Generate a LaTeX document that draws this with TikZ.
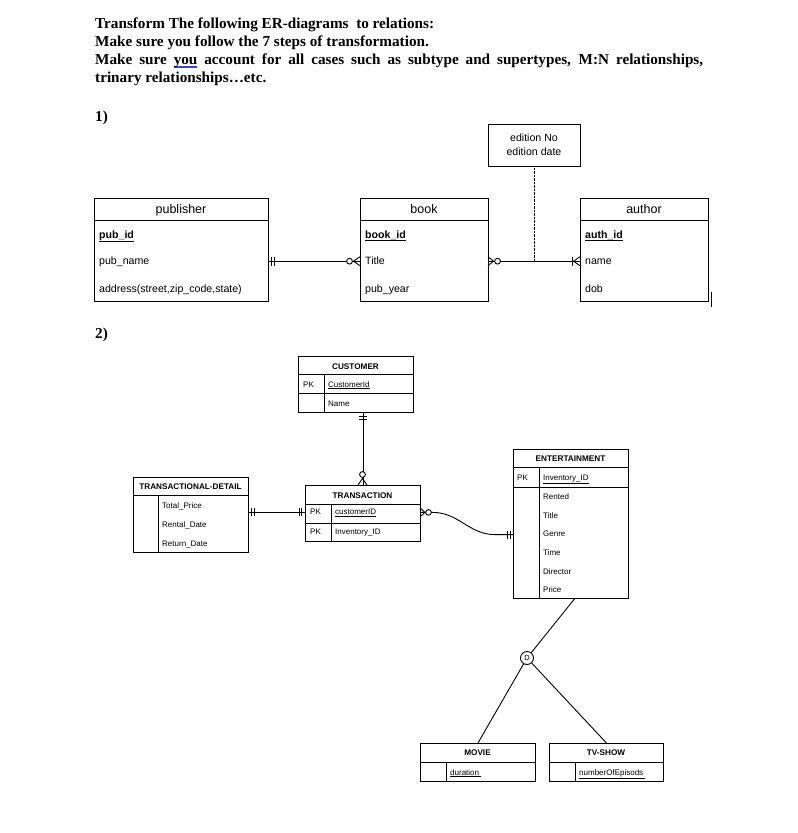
\documentclass[tikz,border=0pt]{standalone}
\usepackage{fontspec}
\setmainfont{Liberation Serif}
\newfontfamily\diagfont{Liberation Sans}
\usetikzlibrary{positioning}
\definecolor{spellblue}{RGB}{45,75,205}

% blue spell-check mark under a word
\newcommand{\spellmark}[1]{%
  \setbox0=\hbox{#1}%
  \rlap{\color{spellblue}\rule[-2.2pt]{\wd0}{0.5pt}}%
  \rlap{\color{spellblue}\rule[-3.6pt]{\wd0}{0.5pt}}%
  \box0\relax}

\tikzset{
  heading/.style={anchor=base west, inner sep=0pt, font=\bfseries\fontsize{15.2}{18}\selectfont},
  entity/.style={draw, line width=0.9pt, anchor=north west, inner sep=0pt},
  bigtitle/.style={anchor=base, inner sep=0pt, font=\diagfont\fontsize{12.5}{14}\selectfont},
  bigattr/.style={anchor=base west, inner sep=0pt, text height=8pt, text depth=2.4pt, font=\diagfont\fontsize{10.6}{12}\selectfont},
  smalltitle/.style={anchor=base, inner sep=0pt, font=\diagfont\bfseries\fontsize{8.2}{9}\selectfont},
  smallattr/.style={anchor=base west, inner sep=0pt, text height=6pt, text depth=1.8pt, font=\diagfont\fontsize{8}{9}\selectfont},
  link/.style={line width=0.9pt},
  openend/.style={line width=0.9pt, fill=white},
}

\begin{document}
\begin{tikzpicture}[x=1pt, y=-1pt]
  \useasboundingbox (0,0) rectangle (798,833);
  % the task text
  \node[heading] (task1) at (95,28) {Transform The following ER-diagrams\ \ to relations:};
  \node[heading] (task2) at (95,46) {Make sure you follow the 7 steps of transformation.};
  \node[heading] (task3) at (95,64) {\makebox[608pt][s]{Make sure \spellmark{you} account for all cases such as subtype and supertypes, M:N relationships,}};
  \node[heading] (task4) at (95,82) {trinary relationships…etc.};
  \node[heading] (part1) at (95,121) {1)};
  \node[heading] (part2) at (95,338) {2)};

  % ---------- diagram 1 ----------
  % publisher table
  \node[entity, minimum width=174, minimum height=103] (publisher) at (94,198) {};
  \draw[link] (94,220) -- (268,220);
  \node[bigtitle] (pubhead) at (181,213.5) {publisher};
  \node[bigattr] (pubid) at (99,238) {\textbf{\underline{pub\_id}}};
  \node[bigattr] (pubname) at (99,264) {pub\_name};
  \node[bigattr] (pubaddr) at (99,292) {address(street,zip\_code,state)};
  % book table
  \node[entity, minimum width=128, minimum height=103] (book) at (360,198) {};
  \draw[link] (360,220) -- (488,220);
  \node[bigtitle] (bookhead) at (424,213.5) {book};
  \node[bigattr] (bookid) at (365,238) {\textbf{\underline{book\_id}}};
  \node[bigattr] (booktitle) at (365,264) {Title};
  \node[bigattr] (bookyear) at (365,292) {pub\_year};
  % author table
  \node[entity, minimum width=128, minimum height=103] (author) at (580,198) {};
  \draw[link] (580,220) -- (708,220);
  \node[bigtitle] (authhead) at (644,213.5) {author};
  \node[bigattr] (authid) at (585,238) {\textbf{\underline{auth\_id}}};
  \node[bigattr] (authname) at (585,264) {name};
  \node[bigattr] (authdob) at (585,292) {dob};
  \draw[line width=1pt] (711,292) -- (711,307);
  % attributes of the relationship
  \node[draw, line width=0.9pt, minimum width=92, minimum height=42, inner sep=0pt, align=center,
        font=\diagfont\fontsize{10.6}{14}\selectfont] (edition) at (534,145) {edition No\\edition date};

  % publisher -- book
  \draw[link] (publisher.east |- pubname.west) -- (book.west |- pubname.west);
  \draw[link] (271,256.5) -- (271,265.5) (274,256.5) -- (274,265.5);
  \draw[link] (360,256.7) -- (353.5,261.2) -- (360,265.7);
  \draw[openend] (349.5,261.2) circle (2.9);
  % book -- author
  \draw[link] (book.east |- authname.west) -- (author.west |- authname.west);
  \draw[link] (488,256.7) -- (493.5,261.2) -- (488,265.7);
  \draw[openend] (497.5,261.2) circle (2.9);
  \draw[link] (572,256.5) -- (572,265.5);
  \draw[link] (580,256.7) -- (573.5,261.2) -- (580,265.7);
  \draw[densely dotted] (edition.south) -- (edition.south |- authname.west);

  % ---------- diagram 2 ----------
  % CUSTOMER
  \node[entity, minimum width=115, minimum height=56] (customer) at (298,356) {};
  \draw[link] (298,374) -- (413,374) (298,393) -- (413,393) (324,374) -- (324,412);
  \node[smalltitle] (custhead) at (355.5,369) {CUSTOMER};
  \node[smallattr] (custpk) at (303,387) {PK};
  \node[smallattr] (custid) at (328,387) {\underline{CustomerId}};
  \node[smallattr] (custname) at (328,406) {Name};
  % TRANSACTION
  \node[entity, minimum width=115, minimum height=56] (transaction) at (305,485) {};
  \draw[link] (305,504) -- (420,504) (305,523) -- (420,523) (331,504) -- (331,541);
  \node[smalltitle] (transhead) at (362.5,498) {TRANSACTION};
  \node[smallattr] (transpka) at (310,514.5) {PK};
  \node[smallattr] (transcust) at (335,514.5) {\underline{customerID}};
  \node[smallattr] (transpkb) at (310,534.6) {PK};
  \node[smallattr] (transinv) at (335,534.6) {Inventory\_ID};
  % TRANSACTIONAL-DETAIL
  \node[entity, minimum width=115, minimum height=75] (tdetail) at (133,477) {};
  \draw[link] (133,495) -- (248,495) (158,495) -- (158,552);
  \node[smalltitle] (tdhead) at (190.5,489) {TRANSACTIONAL-DETAIL};
  \node[smallattr] (tdprice) at (162,508) {Total\_Price};
  \node[smallattr] (tdrental) at (162,527) {Rental\_Date};
  \node[smallattr] (tdreturn) at (162,546) {Return\_Date};
  % ENTERTAINMENT
  \node[entity, minimum width=115, minimum height=149] (entertain) at (513,449) {};
  \draw[link] (513,467) -- (628,467) (513,487) -- (628,487) (539,467) -- (539,598);
  \node[smalltitle] (enthead) at (570.5,461) {ENTERTAINMENT};
  \node[smallattr] (entpk) at (517,480.3) {PK};
  \node[smallattr] (entinv) at (543,480.3) {\underline{Inventory\_ID}};
  \node[smallattr] (entrented) at (543,499) {Rented};
  \node[smallattr] (enttitle) at (543,518) {Title};
  \node[smallattr] (entgenre) at (543,536.7) {Genre};
  \node[smallattr] (enttime) at (543,555.3) {Time};
  \node[smallattr] (entdir) at (543,574) {Director};
  \node[smallattr] (entprice) at (543,592.3) {Price};
  % MOVIE and TV-SHOW
  \node[entity, minimum width=115, minimum height=38] (movie) at (420,743) {};
  \draw[link] (420,762) -- (535,762) (446,762) -- (446,781);
  \node[smalltitle] (moviehead) at (477.5,755) {MOVIE};
  \node[smallattr] (movieattr) at (450,775) {\underline{duration\ }};
  \node[entity, minimum width=114, minimum height=38] (tvshow) at (549,743) {};
  \draw[link] (549,762) -- (663,762) (575,762) -- (575,781);
  \node[smalltitle] (tvhead) at (606,755) {TV-SHOW};
  \node[smallattr] (tvattr) at (579,775) {\underline{numberOfEpisods\ }};
  % disjoint subtypes
  \node[draw, line width=0.9pt, circle, minimum size=13, inner sep=0pt, fill=white,
        font=\diagfont\fontsize{7.5}{8}\selectfont] (disjoint) at (527,658) {D};
  \draw[link] ([xshift=3.5pt]entertain.south) -- (disjoint);
  \draw[link] (disjoint) -- (movie.north);
  \draw[link] (disjoint) -- (tvshow.north);

  % customer -- transaction
  \draw[link] (transaction.north |- customer.south) -- (transaction.north);
  \draw[link] (358.5,416) -- (366.5,416) (358.5,419) -- (366.5,419);
  \draw[link] (358,485) -- (362.5,478.5) -- (367,485);
  \draw[openend] (362.5,474.5) circle (2.9);
  % transactional-detail -- transaction
  \draw[link] (tdetail.east |- transcust.west) -- (transaction.west |- transcust.west);
  \draw[link] (251.5,508) -- (251.5,516) (254,508) -- (254,516);
  \draw[link] (299,508) -- (299,516) (301.5,508) -- (301.5,516);
  % transaction -- entertainment
  \draw[link] (transaction.east |- transcust.west) -- ++(12,0) to[out=0, in=180] ++(62,22.2)
        -- (entertain.west |- entgenre.west);
  \draw[link] (420,507.9) -- (425,512.4) -- (420,516.9);
  \draw[openend] (428.5,512.4) circle (2.8);
  \draw[link] (507.5,530.6) -- (507.5,538.6) (510,530.6) -- (510,538.6);
\end{tikzpicture}
\end{document}
